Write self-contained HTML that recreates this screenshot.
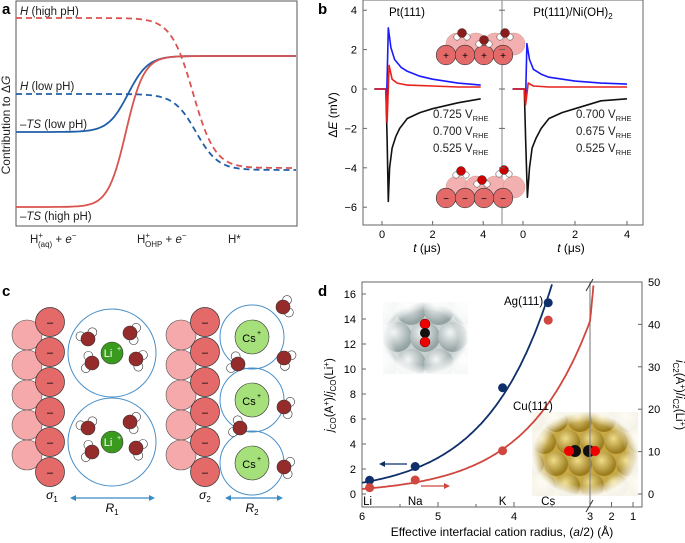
<!DOCTYPE html>
<html><head><meta charset="utf-8"><style>
body{margin:0;background:#fff}
svg{display:block;font-family:"Liberation Sans",sans-serif}
</style></head><body>
<svg id="fig" width="685" height="543" viewBox="0 0 685 543" xmlns="http://www.w3.org/2000/svg">
<g font-weight="bold" font-size="15" fill="#000">
<text x="2" y="14">a</text>
<text x="318" y="14">b</text>
<text x="2" y="296">c</text>
<text x="318" y="296">d</text>
</g>
<g id="pa">
<rect x="16" y="1" width="281" height="225" fill="none" stroke="#555" stroke-width="1"/>
<text transform="translate(10,125) rotate(-90)" font-size="12" text-anchor="middle" fill="#222">Contribution to Δ<tspan font-style="italic">G</tspan></text>
<g font-size="11.5" fill="#222">
<text x="20" y="15"><tspan font-style="italic">H</tspan> (high pH)</text>
<text x="20" y="90"><tspan font-style="italic">H</tspan> (low pH)</text>
<text x="20" y="128">–<tspan font-style="italic">TS</tspan> (low pH)</text>
<text x="20" y="220">–<tspan font-style="italic">TS</tspan> (high pH)</text>
<text x="30" y="243">H<tspan font-size="8" dy="-5">+</tspan><tspan font-size="8" dx="-5" dy="9">(aq)</tspan><tspan dy="-4"> + </tspan><tspan font-style="italic">e</tspan><tspan font-size="8" dy="-5">−</tspan></text>
<text x="137" y="243">H<tspan font-size="8" dy="-5">+</tspan><tspan font-size="8" dx="-5" dy="9">OHP</tspan><tspan dy="-4"> + </tspan><tspan font-style="italic">e</tspan><tspan font-size="8" dy="-5">−</tspan></text>
<text x="228" y="243">H*</text>
</g>
</g>
<g id="pb">
<rect x="363" y="0" width="280" height="225" fill="none" stroke="#666"/>
<line x1="502" y1="0" x2="502" y2="225" stroke="#999" stroke-width="1.2"/>
<text transform="translate(337,115) rotate(-90)" font-size="12" text-anchor="middle">Δ<tspan font-style="italic">E</tspan> (mV)</text>
<text x="427" y="252" font-size="12" text-anchor="middle"><tspan font-style="italic">t</tspan> (μs)</text>
<text x="571" y="252" font-size="12" text-anchor="middle"><tspan font-style="italic">t</tspan> (μs)</text>
<text x="407" y="16" font-size="11.5" text-anchor="middle">Pt(111)</text>
<text x="573" y="16" font-size="11.5" text-anchor="middle">Pt(111)/Ni(OH)<tspan font-size="8" dy="3">2</tspan></text>
<g id="bill"></g>
<g id="btr"></g>
<g font-size="11.5" fill="#222">
<text x="433" y="118">0.725 V<tspan font-size="7.5" dy="3">RHE</tspan></text>
<text x="433" y="135">0.700 V<tspan font-size="7.5" dy="3">RHE</tspan></text>
<text x="433" y="152">0.525 V<tspan font-size="7.5" dy="3">RHE</tspan></text>
<text x="576" y="118">0.700 V<tspan font-size="7.5" dy="3">RHE</tspan></text>
<text x="576" y="135">0.675 V<tspan font-size="7.5" dy="3">RHE</tspan></text>
<text x="576" y="152">0.525 V<tspan font-size="7.5" dy="3">RHE</tspan></text>
</g>
</g>
<g id="pc"></g>
<g id="pd">
<defs>
<radialGradient id="gAg" cx="40%" cy="35%" r="60%"><stop offset="0" stop-color="#f4f6f6"/><stop offset="1" stop-color="#95a3a3"/></radialGradient>
<radialGradient id="gAu" cx="40%" cy="35%" r="60%"><stop offset="0" stop-color="#f0dc8a"/><stop offset="1" stop-color="#9c7d1e"/></radialGradient>
<radialGradient id="gfade" cx="50%" cy="50%" r="50%"><stop offset="0.75" stop-color="#fff" stop-opacity="0"/><stop offset="1" stop-color="#fff" stop-opacity="0.9"/></radialGradient>
<clipPath id="clipAg"><rect x="383" y="302" width="85" height="72"/></clipPath>
<clipPath id="clipAu"><rect x="532" y="412" width="106" height="84"/></clipPath>
</defs>
<rect x="362" y="282" width="280" height="225" fill="none" stroke="#666"/>
<g id="dimgAg" clip-path="url(#clipAg)"></g>
<g id="dimgAu" clip-path="url(#clipAu)"></g>
<g id="dchart"></g>
<text transform="translate(333,395) rotate(-90)" font-size="11.5" text-anchor="middle"><tspan font-style="italic">j</tspan><tspan font-size="8" dy="3">CO</tspan><tspan dy="-3">(A</tspan><tspan font-size="8" dy="-4">+</tspan><tspan dy="4">)/</tspan><tspan font-style="italic">j</tspan><tspan font-size="8" dy="3">CO</tspan><tspan dy="-3">(Li</tspan><tspan font-size="8" dy="-4">+</tspan><tspan dy="4">)</tspan></text>
<text transform="translate(676,395) rotate(90)" font-size="11.5" text-anchor="middle"><tspan font-style="italic">i</tspan><tspan font-size="8" dy="3">C2</tspan><tspan dy="-3">(A</tspan><tspan font-size="8" dy="-4">+</tspan><tspan dy="4">)/</tspan><tspan font-style="italic">i</tspan><tspan font-size="8" dy="3">C2</tspan><tspan dy="-3">(Li</tspan><tspan font-size="8" dy="-4">+</tspan><tspan dy="4">)</tspan></text>
<text x="502" y="536" font-size="12" text-anchor="middle">Effective interfacial cation radius, (<tspan font-style="italic">a</tspan>/2) (Å)</text>
<text x="504" y="305" font-size="11.5">Ag(111)</text>
<text x="513" y="410" font-size="11.5">Cu(111)</text>
</g>
</svg>
<script>
// ===== Panel a data =====
const aCurveNames=['H-high','H-low','TS-low','TS-high'];
const aStart=[18,94,132,207];
const aEnd=[168,170,56,56];
const aMid=[193,196,128,126];
const aWidth=[11,11,10,9];
const aColors=['#d9534f','#1f5fa8','#1f5fa8','#d9534f'];
const aDash=['6,4','6,4','none','none'];

// ===== Panel b data =====
const bTimesBlueL=[-0.3,0.1,0.15,0.18,0.25,0.35,0.5,0.75,1,1.5,2,3,3.9];
const bBlueL=[0,0,0,-0.6,3.1,2.1,1.5,1.1,0.9,0.65,0.5,0.3,0.2];
const bTimesRedL=[-0.3,0.1,0.15,0.2,0.28,0.4,0.6,1,2,3,3.9];
const bRedL=[0,0,0,-1.7,1.2,0.5,0.3,0.2,0.15,0.1,0.1];
const bTimesBlackL=[-0.3,0.1,0.15,0.2,0.25,0.3,0.4,0.55,0.7,1,1.5,2,3,3.9];
const bBlackL=[0,0,0,-2.5,-5.7,-4,-3,-2.4,-2,-1.5,-1.2,-1,-0.7,-0.5];
const bTimesBlueR=[-0.4,0,0.05,0.1,0.15,0.25,0.4,0.7,1,2,3,4];
const bBlueR=[0,0,0,-0.5,2.3,1.5,1,0.75,0.6,0.4,0.3,0.25];
const bTimesRedR=[-0.4,0,0.05,0.1,0.2,0.4,1,2,4];
const bRedR=[0,0,0,-0.8,0.3,0.15,0.1,0.1,0.1];
const bTimesBlackR=[-0.4,0,0.05,0.1,0.17,0.25,0.35,0.5,0.7,1,1.5,2,3,4];
const bBlackR=[0,0,0,-2.5,-5.5,-4,-3,-2.5,-2,-1.5,-1.2,-1,-0.6,-0.5];
const bYTicks=[4,2,0,-2,-4,-6];
const bXTicks=[0,2,4];

// ===== Panel d data =====
const dCations=['Li','Na','K','Cs'];
const dRadius=[5.9,5.3,4.15,3.55];
const dAgRatio=[1.1,2.2,8.5,15.3];
const dCuRatio=[1.5,3.3,10.2,41];
const dLeftTicks=[0,2,4,6,8,10,12,14,16];
const dRightTicks=[0,10,20,30,40,50];
const dXTicksMain=[6,5,4,3];
const dXTicksBreak=[2,1];
const dAgFit=[0.9,1.17];
const dCuFit=[1.2,1.175];

const NS='http://www.w3.org/2000/svg';
function mk(tag,attrs,parent){const e=document.createElementNS(NS,tag);for(const k in attrs)e.setAttribute(k,attrs[k]);parent.appendChild(e);return e;}

// ---- Panel a ----
const pa=document.getElementById('pa');
for(let i=0;i<aCurveNames.length;i++){
  let d='';
  for(let x=16;x<=297;x+=2){
    const s=1/(1+Math.exp(-(x-aMid[i])/aWidth[i]));
    const y=aStart[i]+(aEnd[i]-aStart[i])*s;
    d+=(x===16?'M':'L')+x+','+y.toFixed(1);
  }
  const p=mk('path',{d:d,fill:'none',stroke:aColors[i],'stroke-width':1.8,'stroke-dasharray':aDash[i]},pa);
  
  
}

// ---- Panel b ----
const btr=document.getElementById('btr');
const pb=document.getElementById('pb');
const bY=v=>89-v*19.7;
const bXL=t=>382+t*25.3;
const bXR=t=>523+t*26;
function trace(ts,vs,fx,col,name){
  let d='';ts.forEach((t,i)=>{d+=(i?'L':'M')+fx(t).toFixed(1)+','+bY(vs[i]).toFixed(1);});
  const p=mk('path',{d:d,fill:'none',stroke:col,'stroke-width':1.6,'stroke-linejoin':'round'},btr);
  
  
}
trace(bTimesBlackL,bBlackL,bXL,'#111','trace-black-left');
trace(bTimesBlueL,bBlueL,bXL,'#1a1aff','trace-blue-left');
trace(bTimesRedL,bRedL,bXL,'#e8201c','trace-red-left');
trace(bTimesBlackR,bBlackR,bXR,'#111','trace-black-right');
trace(bTimesBlueR,bBlueR,bXR,'#1a1aff','trace-blue-right');
trace(bTimesRedR,bRedR,bXR,'#e8201c','trace-red-right');
bYTicks.forEach(v=>{
  const y=bY(v);
  const l=mk('line',{x1:363,x2:367,y1:y,y2:y,stroke:'#666'},pb);
  
  
  mk('line',{x1:499,x2:505,y1:y,y2:y,stroke:'#666'},pb);
  const t=mk('text',{x:357,y:y+4,'font-size':11,'text-anchor':'end'},pb);t.textContent=v<0?'−'+(-v):v;
  
  
});
bXTicks.forEach(v=>{
  [bXL(v),bXR(v)].forEach(x=>{
    mk('line',{x1:x,x2:x,y1:225,y2:221,stroke:'#666'},pb);
    const t=mk('text',{x:x,y:238,'font-size':11,'text-anchor':'middle'},pb);t.textContent=v;
    
    
  });
});
const bill=document.getElementById('bill');
function slab(cy,sign,mols){
  [455,474,493,512].forEach(x=>mk('circle',{cx:x+2,cy:cy-11,r:11,fill:'#f3b0b0',stroke:'#c98','stroke-width':0.5},bill));
  [446,465,484,503].forEach(x=>{mk('circle',{cx:x,cy:cy,r:9.8,fill:'#e46a6a',stroke:'#333','stroke-width':0.6},bill);
    const t=mk('text',{x:x,y:cy+4,'font-size':10,'text-anchor':'middle'},bill);t.textContent=sign;});
  mols.forEach(m=>{mk('circle',{cx:m[0]-5,cy:m[1]+4,r:3.2,fill:'#fff',stroke:'#333','stroke-width':0.5},bill);
    mk('circle',{cx:m[0]+5,cy:m[1]+4,r:3.2,fill:'#fff',stroke:'#333','stroke-width':0.5},bill);
    mk('circle',{cx:m[0],cy:m[1],r:4.5,fill:m[2],stroke:'#333','stroke-width':0.5},bill);});
}
slab(55,'+',[[462,33,'#8b1c1c'],[484,40,'#8b1c1c'],[505,33,'#8b1c1c']]);
slab(198,'−',[[461,171,'#c00'],[482,180,'#c00'],[504,170,'#c00']]);

// ---- Panel c ----
const pc=document.getElementById('pc');
function water(x,y,ang){
  const a=ang*Math.PI/180;
  mk('circle',{cx:x+8*Math.cos(a),cy:y+8*Math.sin(a),r:4.5,fill:'#fff',stroke:'#333','stroke-width':0.6},pc);
  mk('circle',{cx:x+8*Math.cos(a+1.8),cy:y+8*Math.sin(a+1.8),r:4.5,fill:'#fff',stroke:'#333','stroke-width':0.6},pc);
  mk('circle',{cx:x,cy:y,r:7,fill:'#962b2b',stroke:'#333','stroke-width':0.6},pc);
}
function electrode(xb,xf){
  [335,365,395,425,455].forEach(y=>mk('circle',{cx:xb,cy:y,r:15,fill:'#f5a9ab',stroke:'#555','stroke-width':0.6},pc));
  [322,352,382,412,442,472].forEach(y=>{mk('circle',{cx:xf,cy:y,r:14.5,fill:'#e46a6a',stroke:'#333','stroke-width':0.7},pc);
    const t=mk('text',{x:xf,y:y+4,'font-size':11,'text-anchor':'middle'},pc);t.textContent='–';});
}
electrode(27,50);
electrode(181,205);
[353,442].forEach(cy=>{
  mk('circle',{cx:112,cy:cy,r:44,fill:'none',stroke:'#4a90c8','stroke-width':1},pc);
  mk('circle',{cx:112,cy:cy,r:11,fill:'#3a9a1e',stroke:'#333','stroke-width':0.6},pc);
  const t=mk('text',{x:108,y:cy+4,'font-size':11,'text-anchor':'middle',fill:'#fff'},pc);t.textContent='Li';
  const s=mk('text',{x:117,y:cy-2,'font-size':7,fill:'#fff'},pc);s.textContent='+';
  water(88,cy-14,200);water(130,cy-20,-40);water(92,cy+10,140);water(136,cy+6,-30);
});
[337,400,463].forEach(cy=>{
  mk('circle',{cx:252,cy:cy,r:32,fill:'none',stroke:'#4a90c8','stroke-width':1},pc);
  mk('circle',{cx:252,cy:cy,r:17,fill:'#a5e07a',stroke:'#333','stroke-width':0.6},pc);
  const t=mk('text',{x:249,y:cy+5,'font-size':11,'text-anchor':'middle'},pc);t.textContent='Cs';
  const s=mk('text',{x:257,y:cy-2,'font-size':7},pc);s.textContent='+';
});
water(283,307,-60);water(284,358,-20);water(238,364,150);water(284,407,-40);water(240,428,150);water(284,467,-40);
[['σ','1',52,499],['σ','2',205,499]].forEach(c=>{const t=mk('text',{x:c[2],y:c[3],'font-size':12,'text-anchor':'middle','font-style':'italic'},pc);t.textContent=c[0];
  const s=mk('tspan',{'font-size':8,dy:3,'font-style':'normal'},t);s.textContent=c[1];});
[[70,155,112,'1'],[225,283,252,'2']].forEach(a=>{
  mk('line',{x1:a[0]+4,x2:a[1]-4,y1:498,y2:498,stroke:'#3a8ac4','stroke-width':1.3},pc);
  mk('path',{d:'M'+a[0]+',498 l6,-3 v6z M'+a[1]+',498 l-6,-3 v6z',fill:'#3a8ac4'},pc);
  const t=mk('text',{x:a[2],y:512,'font-size':12,'text-anchor':'middle','font-style':'italic'},pc);t.textContent='R';
  const s=mk('tspan',{'font-size':8,dy:3,'font-style':'normal'},t);s.textContent=a[3];
});

// ---- Panel d ----
const dch=document.getElementById('dchart');
const dAg=document.getElementById('dimgAg');
const dAu=document.getElementById('dimgAu');
const dX=r=>r>=3?362+(6-r)*76:590+(3-r)*21.5;
const dYL=v=>494-v*12.5;
const dYR=v=>494-v*4.24;
mk('rect',{x:383,y:302,width:85,height:72,fill:'#c8d0d0'},dAg);
for(let j=0;j<4;j++)for(let i=0;i<5;i++){mk('circle',{cx:383+i*28+(j%2?14:0),cy:310+j*27,r:15,fill:'url(#gAg)'},dAg);}
mk('rect',{x:383,y:302,width:85,height:72,fill:'url(#gfade)'},dAg);
mk('circle',{cx:425,cy:324,r:5,fill:'#e00',stroke:'#600','stroke-width':0.5},dAg);
mk('circle',{cx:425,cy:333,r:5,fill:'#111'},dAg);
mk('circle',{cx:425,cy:342,r:5,fill:'#e00',stroke:'#600','stroke-width':0.5},dAg);
mk('rect',{x:532,y:412,width:106,height:84,fill:'#c7a843'},dAu);
for(let j=0;j<5;j++)for(let i=0;i<6;i++){mk('circle',{cx:532+i*24+(j%2?12:0),cy:420+j*22,r:12,fill:'url(#gAu)'},dAu);}
mk('rect',{x:532,y:412,width:106,height:84,fill:'url(#gfade)'},dAu);
mk('circle',{cx:575,cy:451,r:6,fill:'#111'},dAu);mk('circle',{cx:589,cy:451,r:6,fill:'#111'},dAu);
mk('circle',{cx:569,cy:451,r:5,fill:'#e00'},dAu);mk('circle',{cx:595,cy:451,r:5,fill:'#e00'},dAu);
mk('line',{x1:590,x2:590,y1:282,y2:507,stroke:'#888','stroke-width':1.2},dch);
mk('path',{d:'M586,291 l7,-12 M586,512 l7,-12',stroke:'#333','stroke-width':1},dch);
function fit(p,fy,col,name){
  let d='';let first=true;
  for(let r=6;r>=2.6;r-=0.02){const v=p[0]*Math.exp(p[1]*(6-r));const y=fy(v);if(y<282)break;d+=(first?'M':'L')+dX(r).toFixed(1)+','+y.toFixed(1);first=false;}
  const e=mk('path',{d:d,fill:'none',stroke:col,'stroke-width':1.8},dch);
  
  
}
fit(dAgFit,dYL,'#0f2f6a','fit-ag');
fit(dCuFit,dYR,'#d0473f','fit-cu');
dRadius.forEach((r,i)=>{
  const a=mk('circle',{cx:dX(r),cy:dYL(dAgRatio[i]),r:4.5,fill:'#0f2f6a'},dch);
  
  
  const c=mk('circle',{cx:dX(r),cy:dYR(dCuRatio[i]),r:4.5,fill:'#d0473f'},dch);
  
  
  const t=mk('text',{x:dX(r)+(i===0?-2:0),y:505,'font-size':11.5,'text-anchor':'middle'},dch);t.textContent=dCations[i];
  
  
});
dLeftTicks.forEach(v=>{const y=dYL(v);mk('line',{x1:362,x2:366,y1:y,y2:y,stroke:'#666'},dch);
  const t=mk('text',{x:356,y:y+4,'font-size':11,'text-anchor':'end'},dch);t.textContent=v;
  
  });
dRightTicks.forEach(v=>{const y=dYR(v);mk('line',{x1:638,x2:642,y1:y,y2:y,stroke:'#666'},dch);
  const t=mk('text',{x:648,y:y+4,'font-size':11},dch);t.textContent=v;
  
  });
dXTicksMain.concat(dXTicksBreak).forEach(v=>{const x=dX(v);mk('line',{x1:x,x2:x,y1:507,y2:502,stroke:'#666'},dch);
  const t=mk('text',{x:x,y:520,'font-size':11,'text-anchor':'middle'},dch);t.textContent=v;
  
  });
[5.5,4.5,3.5].forEach(v=>{const x=dX(v);mk('line',{x1:x,x2:x,y1:507,y2:504,stroke:'#666'},dch);});
mk('line',{x1:407,x2:384,y1:464,y2:464,stroke:'#0f2f6a','stroke-width':1.3},dch);
mk('path',{d:'M379,464 l6,-3 v6z',fill:'#0f2f6a'},dch);
mk('line',{x1:421,x2:445,y1:486,y2:486,stroke:'#d0473f','stroke-width':1.3},dch);
mk('path',{d:'M450,486 l-6,-3 v6z',fill:'#d0473f'},dch);
</script>
</body></html>
